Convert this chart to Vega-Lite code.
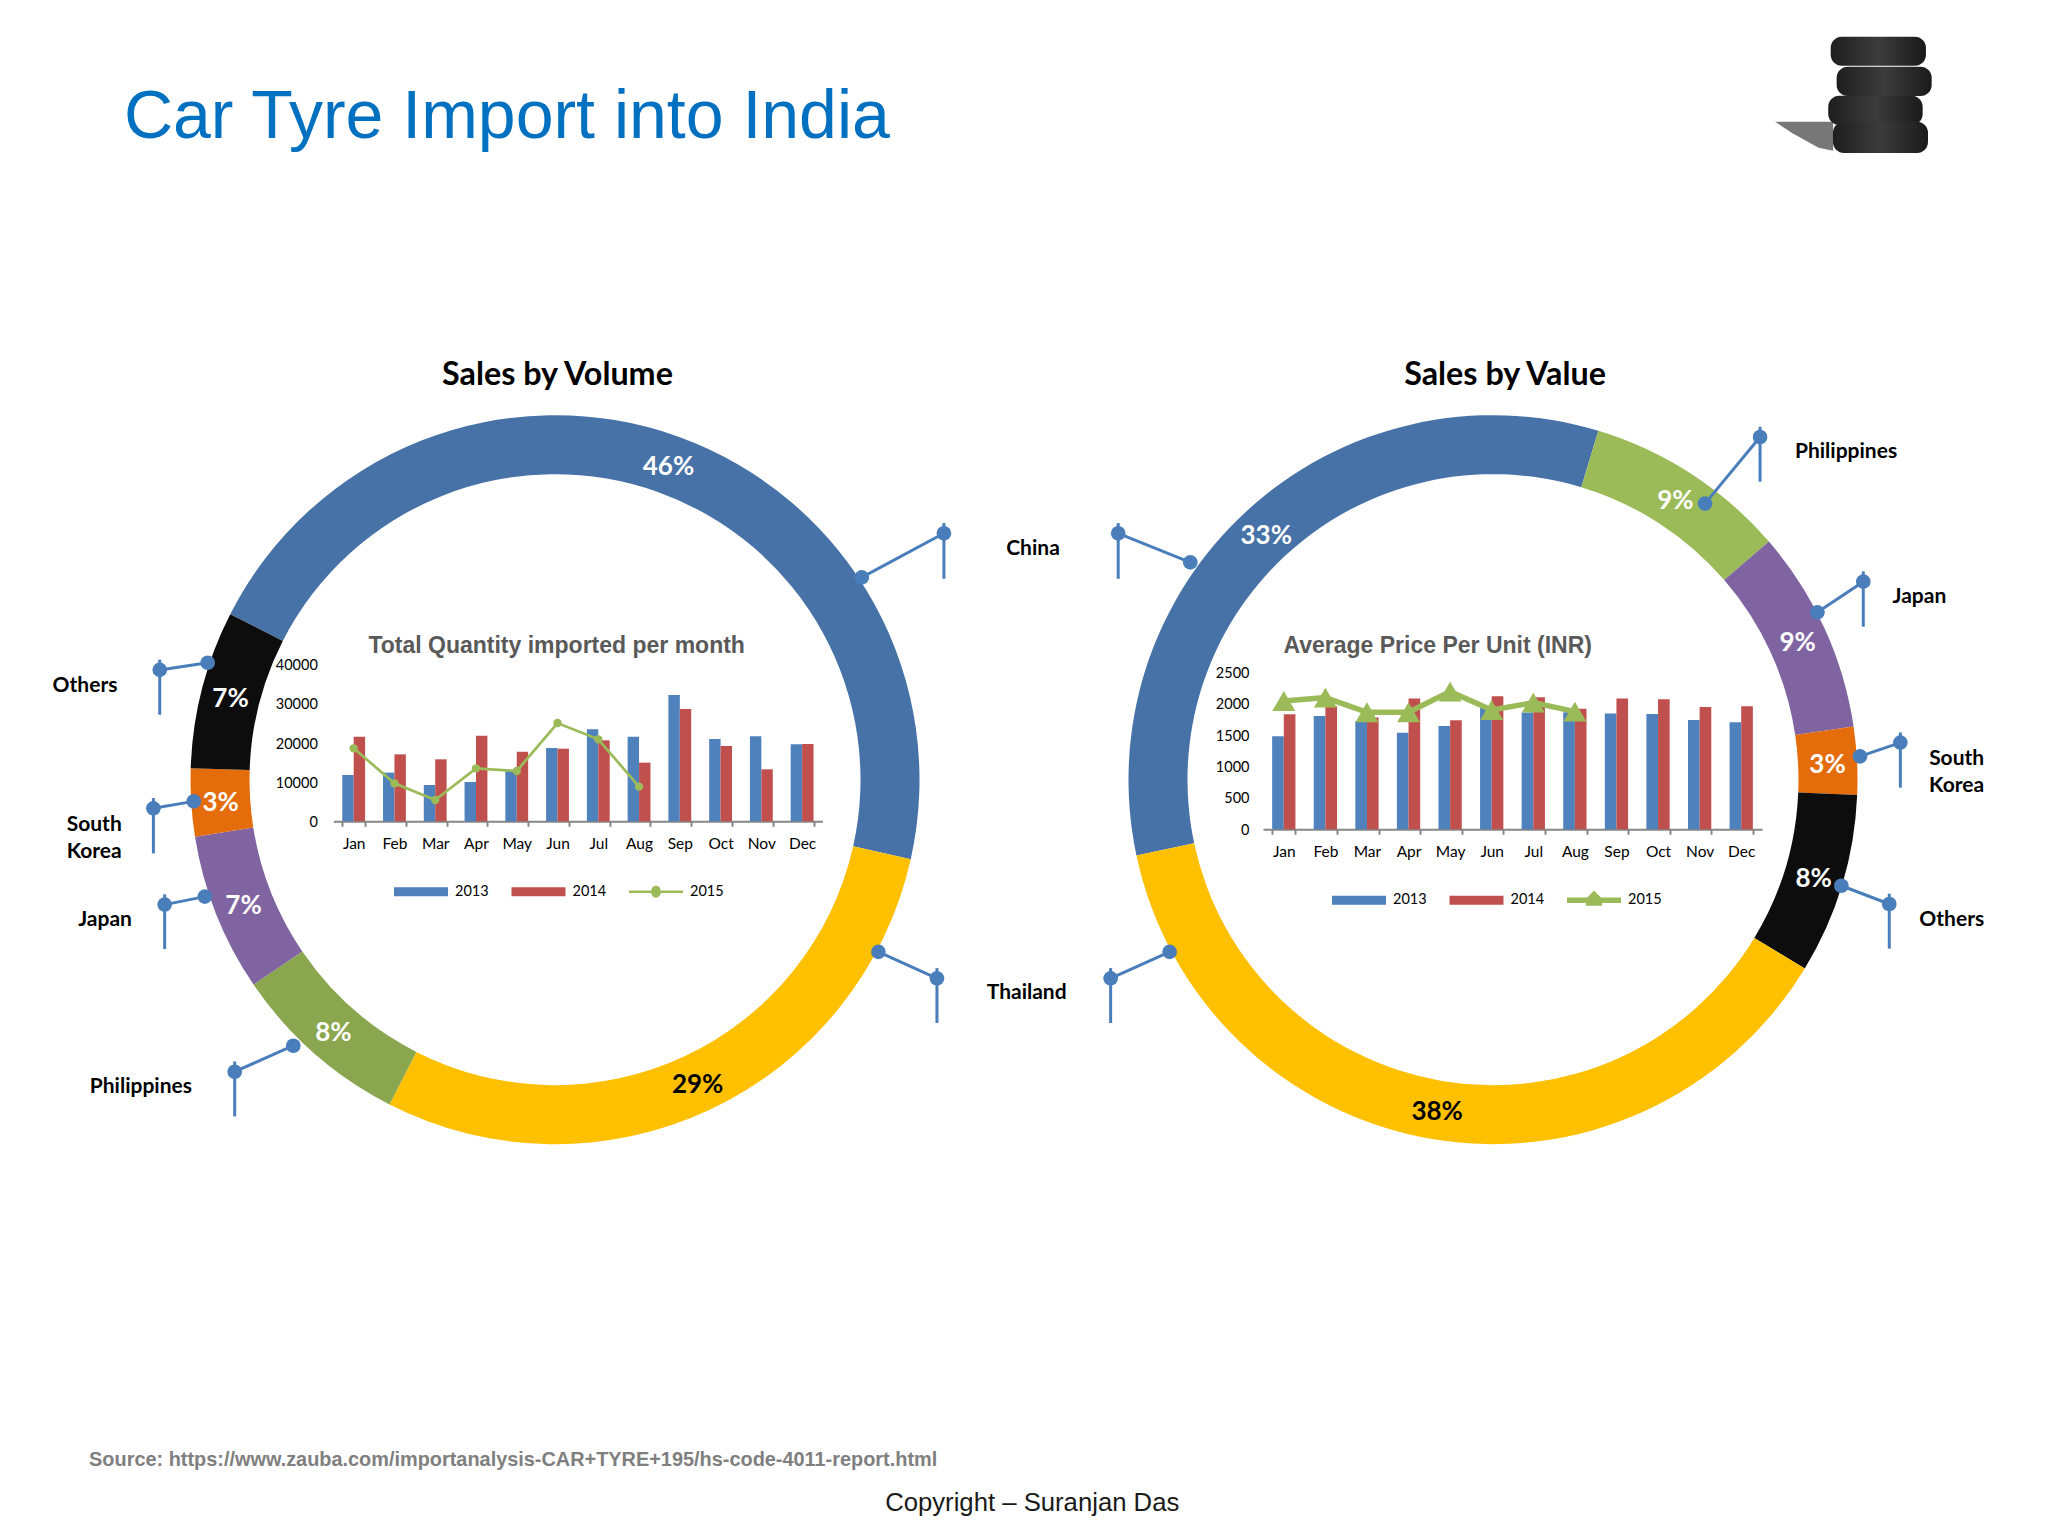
{
  "$schema": "https://vega.github.io/schema/vega-lite/v6.json",
  "autosize": {"type": "fit", "contains": "padding"},
  "width": 2048,
  "height": 1536,
  "padding": 0,
  "background": "#ffffff",
  "config": {
    "view": {"stroke": null},
    "axis": {"disable": true},
    "text": {"font": "Lato"},
    "rule": {"color": "#4A7EBB", "strokeWidth": 3},
    "point": {"color": "#4A7EBB", "filled": true, "opacity": 1, "size": 215}
  },
  "datasets": {
    "page": [{"note": "slide furniture"}],
    "volumeShare": [
      {"country": "China", "share": 0.46, "rank": 1},
      {"country": "Thailand", "share": 0.29, "rank": 2},
      {"country": "Philippines", "share": 0.08, "rank": 3},
      {"country": "Japan", "share": 0.07, "rank": 4},
      {"country": "South Korea", "share": 0.03, "rank": 5},
      {"country": "Others", "share": 0.07, "rank": 6}
    ],
    "valueShare": [
      {"country": "China", "share": 0.33, "rank": 1},
      {"country": "Philippines", "share": 0.09, "rank": 2},
      {"country": "Japan", "share": 0.09, "rank": 3},
      {"country": "South Korea", "share": 0.03, "rank": 4},
      {"country": "Others", "share": 0.08, "rank": 5},
      {"country": "Thailand", "share": 0.38, "rank": 6}
    ],
    "quantity": [
      {"month": "Jan", "year": "2013", "units": 11830},
      {"month": "Jan", "year": "2014", "units": 21620},
      {"month": "Jan", "year": "2015", "units": 18640},
      {"month": "Feb", "year": "2013", "units": 12430},
      {"month": "Feb", "year": "2014", "units": 17100},
      {"month": "Feb", "year": "2015", "units": 9700},
      {"month": "Mar", "year": "2013", "units": 9280},
      {"month": "Mar", "year": "2014", "units": 15830},
      {"month": "Mar", "year": "2015", "units": 5450},
      {"month": "Apr", "year": "2013", "units": 10040},
      {"month": "Apr", "year": "2014", "units": 21870},
      {"month": "Apr", "year": "2015", "units": 13530},
      {"month": "May", "year": "2013", "units": 12850},
      {"month": "May", "year": "2014", "units": 17790},
      {"month": "May", "year": "2015", "units": 12850},
      {"month": "Jun", "year": "2013", "units": 18720},
      {"month": "Jun", "year": "2014", "units": 18550},
      {"month": "Jun", "year": "2015", "units": 25100},
      {"month": "Jul", "year": "2013", "units": 23490},
      {"month": "Jul", "year": "2014", "units": 20680},
      {"month": "Jul", "year": "2015", "units": 20940},
      {"month": "Aug", "year": "2013", "units": 21620},
      {"month": "Aug", "year": "2014", "units": 14980},
      {"month": "Aug", "year": "2015", "units": 8850},
      {"month": "Sep", "year": "2013", "units": 32260},
      {"month": "Sep", "year": "2014", "units": 28680},
      {"month": "Oct", "year": "2013", "units": 21020},
      {"month": "Oct", "year": "2014", "units": 19230},
      {"month": "Nov", "year": "2013", "units": 21700},
      {"month": "Nov", "year": "2014", "units": 13280},
      {"month": "Dec", "year": "2013", "units": 19660},
      {"month": "Dec", "year": "2014", "units": 19740}
    ],
    "price": [
      {"month": "Jan", "year": "2013", "inr": 1481},
      {"month": "Jan", "year": "2014", "inr": 1831},
      {"month": "Jan", "year": "2015", "inr": 2043},
      {"month": "Feb", "year": "2013", "inr": 1805},
      {"month": "Feb", "year": "2014", "inr": 1964},
      {"month": "Feb", "year": "2015", "inr": 2097},
      {"month": "Mar", "year": "2013", "inr": 1725},
      {"month": "Mar", "year": "2014", "inr": 1780},
      {"month": "Mar", "year": "2015", "inr": 1863},
      {"month": "Apr", "year": "2013", "inr": 1539},
      {"month": "Apr", "year": "2014", "inr": 2081},
      {"month": "Apr", "year": "2015", "inr": 1863},
      {"month": "May", "year": "2013", "inr": 1645},
      {"month": "May", "year": "2014", "inr": 1736},
      {"month": "May", "year": "2015", "inr": 2192},
      {"month": "Jun", "year": "2013", "inr": 1943},
      {"month": "Jun", "year": "2014", "inr": 2118},
      {"month": "Jun", "year": "2015", "inr": 1900},
      {"month": "Jul", "year": "2013", "inr": 1858},
      {"month": "Jul", "year": "2014", "inr": 2102},
      {"month": "Jul", "year": "2015", "inr": 2017},
      {"month": "Aug", "year": "2013", "inr": 1863},
      {"month": "Aug", "year": "2014", "inr": 1921},
      {"month": "Aug", "year": "2015", "inr": 1874},
      {"month": "Sep", "year": "2013", "inr": 1842},
      {"month": "Sep", "year": "2014", "inr": 2081},
      {"month": "Oct", "year": "2013", "inr": 1837},
      {"month": "Oct", "year": "2014", "inr": 2070},
      {"month": "Nov", "year": "2013", "inr": 1741},
      {"month": "Nov", "year": "2014", "inr": 1948},
      {"month": "Dec", "year": "2013", "inr": 1704},
      {"month": "Dec", "year": "2014", "inr": 1958}
    ]
  },
  "resolve": {
    "scale": {"x": "independent", "y": "independent", "xOffset": "independent", "theta": "independent", "color": "independent"},
    "axis": {"x": "independent", "y": "independent"},
    "legend": {"color": "independent"}
  },
  "layer": [
    {
      "data": {"name": "volumeShare"},
      "encoding": {
        "theta": {"field": "share", "type": "quantitative", "stack": true, "scale": {"domain": [0, 1], "range": [5.1836, 11.4668]}},
        "order": {"field": "rank", "type": "quantitative"},
        "detail": {"field": "country"}
      },
      "layer": [
        {
          "mark": {"type": "arc", "x": {"expr": "width*0.2710"}, "y": {"expr": "height*0.5076"}, "radius": 364.5, "radius2": 305.5},
          "encoding": {
            "color": {"field": "country", "type": "nominal", "legend": null, "scale": {"domain": ["China", "Thailand", "Philippines", "Japan", "South Korea", "Others"], "range": ["#4672A8", "#FFC000", "#8AA64F", "#8064A2", "#E46C0A", "#0D0D0D"]}}
          }
        },
        {
          "mark": {"type": "text", "x": {"expr": "width*0.2710"}, "y": {"expr": "height*0.5076"}, "radius": 335, "dy": 2.5, "fontSize": 26, "fontWeight": "bold", "align": "center", "baseline": "middle"},
          "encoding": {
            "text": {"field": "share", "type": "quantitative", "format": ".0%"},
            "color": {"condition": {"test": "datum.country === 'Thailand'", "value": "#000000"}, "value": "#ffffff"}
          }
        }
      ]
    },
    {
      "data": {"name": "valueShare"},
      "encoding": {
        "theta": {"field": "share", "type": "quantitative", "stack": true, "scale": {"domain": [0, 1], "range": [4.5029, 10.7861]}},
        "order": {"field": "rank", "type": "quantitative"},
        "detail": {"field": "country"}
      },
      "layer": [
        {
          "mark": {"type": "arc", "x": {"expr": "width*0.7290"}, "y": {"expr": "height*0.5076"}, "radius": 364.5, "radius2": 305.5},
          "encoding": {
            "color": {"field": "country", "type": "nominal", "legend": null, "scale": {"domain": ["China", "Thailand", "Philippines", "Japan", "South Korea", "Others"], "range": ["#4672A8", "#FFC000", "#9BBB59", "#8064A2", "#E46C0A", "#0D0D0D"]}}
          }
        },
        {
          "mark": {"type": "text", "x": {"expr": "width*0.7290"}, "y": {"expr": "height*0.5076"}, "radius": 335, "dy": 2.5, "fontSize": 26, "fontWeight": "bold", "align": "center", "baseline": "middle"},
          "encoding": {
            "text": {"field": "share", "type": "quantitative", "format": ".0%"},
            "color": {"condition": {"test": "datum.country === 'Thailand'", "value": "#000000"}, "value": "#ffffff"}
          }
        }
      ]
    },
    {
      "data": {"name": "quantity"},
      "encoding": {
        "x": {
          "field": "month", "type": "nominal", "sort": null,
          "scale": {"type": "band", "domain": ["Jan", "Feb", "Mar", "Apr", "May", "Jun", "Jul", "Aug", "Sep", "Oct", "Nov", "Dec"], "range": [333.3, 822.5], "paddingInner": 0.44, "paddingOuter": 0.22},
          "axis": {"disable": false, "orient": "bottom", "offset": -714.7, "title": null, "labelAngle": 0, "labelFont": "Lato", "labelFontSize": 15.5, "labelColor": "#000000", "labelPadding": 10, "domainColor": "#868686", "domainWidth": 2, "tickColor": "#868686", "tickWidth": 2, "tickSize": 5, "tickBand": "extent"}
        },
        "y": {
          "field": "units", "type": "quantitative", "stack": null,
          "scale": {"domain": [0, 40000], "range": [821.3, 664.7], "nice": false},
          "axis": {"disable": false, "orient": "left", "offset": -333.3, "title": null, "values": [0, 10000, 20000, 30000, 40000], "format": "d", "grid": false, "domain": false, "ticks": false, "labelFont": "Lato", "labelFontSize": 14.5, "labelColor": "#000000", "labelPadding": 16, "labelOffset": 1}
        },
        "color": {
          "field": "year", "type": "nominal",
          "scale": {"domain": ["2013", "2014", "2015"], "range": ["#4F81BD", "#C0504D", "#9BBB59"]},
          "legend": {
            "orient": "none", "legendX": 394, "legendY": 864.5, "direction": "horizontal", "title": null, "columns": 3,
            "labelFont": "Lato", "labelFontSize": 14.5, "labelColor": "#000000", "labelOffset": 7, "columnPadding": 22.5,
            "symbolSize": 2916, "symbolStrokeWidth": 0,
            "encode": {"symbols": {"update": {"shape": {"signal": "datum.value === '2015' ? 'M-1,-.05H-.17A.17,.17 0 0 1 .17,-.05H1V.05H.17A.17,.17 0 0 1 -.17,.05H-1Z' : 'M-1,-.167H1V.167H-1Z'"}}}}
          }
        }
      },
      "layer": [
        {
          "transform": [{"filter": "datum.year !== '2015'"}],
          "mark": {"type": "bar"},
          "encoding": {"xOffset": {"field": "year", "type": "nominal", "scale": {"domain": ["2013", "2014"]}}}
        },
        {
          "transform": [{"filter": "datum.year === '2015'"}],
          "mark": {"type": "line", "strokeWidth": 2.7, "point": {"filled": true, "size": 70, "opacity": 1}}
        }
      ]
    },
    {
      "data": {"name": "price"},
      "encoding": {
        "x": {
          "field": "month", "type": "nominal", "sort": null,
          "scale": {"type": "band", "domain": ["Jan", "Feb", "Mar", "Apr", "May", "Jun", "Jul", "Aug", "Sep", "Oct", "Nov", "Dec"], "range": [1263, 1762], "paddingInner": 0.44, "paddingOuter": 0.22},
          "axis": {"disable": false, "orient": "bottom", "offset": -706.7, "title": null, "labelAngle": 0, "labelFont": "Lato", "labelFontSize": 15.5, "labelColor": "#000000", "labelPadding": 10, "domainColor": "#868686", "domainWidth": 2, "tickColor": "#868686", "tickWidth": 2, "tickSize": 5, "tickBand": "extent"}
        },
        "y": {
          "field": "inr", "type": "quantitative", "stack": null,
          "scale": {"domain": [0, 2500], "range": [829.3, 672.3], "nice": false},
          "axis": {"disable": false, "orient": "left", "offset": -1263, "title": null, "values": [0, 500, 1000, 1500, 2000, 2500], "format": "d", "grid": false, "domain": false, "ticks": false, "labelFont": "Lato", "labelFontSize": 14.5, "labelColor": "#000000", "labelPadding": 14, "labelOffset": 1}
        },
        "color": {
          "field": "year", "type": "nominal",
          "scale": {"domain": ["2013", "2014", "2015"], "range": ["#4F81BD", "#C0504D", "#9BBB59"]},
          "legend": {
            "orient": "none", "legendX": 1332, "legendY": 873, "direction": "horizontal", "title": null, "columns": 3,
            "labelFont": "Lato", "labelFontSize": 14.5, "labelColor": "#000000", "labelOffset": 7, "columnPadding": 22.5,
            "symbolSize": 2916, "symbolStrokeWidth": 0,
            "encode": {"symbols": {"update": {"shape": {"signal": "datum.value === '2015' ? 'M-1,-.1H-.25L0,-.36L.25,-.1H1V.1H.3V.2H-.3V.1H-1Z' : 'M-1,-.167H1V.167H-1Z'"}}}}
          }
        }
      },
      "layer": [
        {
          "transform": [{"filter": "datum.year !== '2015'"}],
          "mark": {"type": "bar"},
          "encoding": {"xOffset": {"field": "year", "type": "nominal", "scale": {"domain": ["2013", "2014"]}}}
        },
        {
          "transform": [{"filter": "datum.year === '2015'"}],
          "mark": {"type": "line", "strokeWidth": 5.5, "point": {"filled": true, "size": 530, "shape": "triangle-up", "opacity": 1}}
        }
      ]
    },
    {
      "data": {"name": "page"},
      "layer": [
        {"mark": {"type": "text", "font": "Liberation Sans", "fontSize": 68, "align": "left", "baseline": "middle", "color": "#0070C0"}, "encoding": {"x": {"datum": 60.5, "type": "quantitative", "scale": {"domain": [0, 1000], "range": [0, 2048], "nice": false}}, "y": {"datum": 57.5, "type": "quantitative", "scale": {"domain": [0, 750], "range": [0, 1536], "nice": false}}, "text": {"value": "Car Tyre Import into India"}}},
        {"mark": {"type": "text", "fontSize": 32.3, "fontWeight": "bold", "color": "#000000"}, "encoding": {"x": {"datum": 272.2}, "y": {"datum": 183.2}, "text": {"value": "Sales by Volume"}}},
        {"mark": {"type": "text", "fontSize": 32.3, "fontWeight": "bold", "color": "#000000"}, "encoding": {"x": {"datum": 734.9}, "y": {"datum": 183.2}, "text": {"value": "Sales by Value"}}},
        {"mark": {"type": "text", "font": "Liberation Sans", "fontSize": 23, "fontWeight": "bold", "color": "#595959"}, "encoding": {"x": {"datum": 271.8}, "y": {"datum": 315.5}, "text": {"value": "Total Quantity imported per month"}}},
        {"mark": {"type": "text", "font": "Liberation Sans", "fontSize": 23, "fontWeight": "bold", "color": "#595959"}, "encoding": {"x": {"datum": 702}, "y": {"datum": 315.5}, "text": {"value": "Average Price Per Unit (INR)"}}},
        {"mark": {"type": "text", "font": "Liberation Sans", "fontSize": 19.9, "fontWeight": "bold", "align": "left", "color": "#7F7F7F"}, "encoding": {"x": {"datum": 43.5}, "y": {"datum": 713}, "text": {"value": "Source: https://www.zauba.com/importanalysis-CAR+TYRE+195/hs-code-4011-report.html"}}},
        {"mark": {"type": "text", "font": "Liberation Sans", "fontSize": 25.7, "color": "#1a1a1a"}, "encoding": {"x": {"datum": 504}, "y": {"datum": 733.8}, "text": {"value": "Copyright – Suranjan Das"}}},

        {"mark": {"type": "point", "shape": "M-1,-.5H1V.5L.5,.4L-.4,-.1Z", "size": 3364, "color": "#777777"}, "encoding": {"x": {"datum": 880.9}, "y": {"datum": 66.5}}},
        {"mark": {"type": "rect", "cornerRadius": 11, "color": {"gradient": "linear", "x1": 0, "x2": 1, "y1": 0, "y2": 0, "stops": [{"offset": 0, "color": "#1e1e1e"}, {"offset": 0.5, "color": "#3c3c3c"}, {"offset": 1, "color": "#1a1a1a"}]}}, "encoding": {"x": {"datum": 893.9}, "x2": {"datum": 940.4}, "y": {"datum": 17.9}, "y2": {"datum": 32.1}}},
        {"mark": {"type": "rect", "cornerRadius": 11, "color": {"gradient": "linear", "x1": 0, "x2": 1, "y1": 0, "y2": 0, "stops": [{"offset": 0, "color": "#1e1e1e"}, {"offset": 0.5, "color": "#3c3c3c"}, {"offset": 1, "color": "#1a1a1a"}]}}, "encoding": {"x": {"datum": 896.8}, "x2": {"datum": 943.2}, "y": {"datum": 32.6}, "y2": {"datum": 46.9}}},
        {"mark": {"type": "rect", "cornerRadius": 11, "color": {"gradient": "linear", "x1": 0, "x2": 1, "y1": 0, "y2": 0, "stops": [{"offset": 0, "color": "#1e1e1e"}, {"offset": 0.5, "color": "#3c3c3c"}, {"offset": 1, "color": "#1a1a1a"}]}}, "encoding": {"x": {"datum": 892.7}, "x2": {"datum": 938.8}, "y": {"datum": 46.7}, "y2": {"datum": 61.0}}},
        {"mark": {"type": "rect", "cornerRadius": 11, "color": {"gradient": "linear", "x1": 0, "x2": 1, "y1": 0, "y2": 0, "stops": [{"offset": 0, "color": "#1e1e1e"}, {"offset": 0.5, "color": "#3c3c3c"}, {"offset": 1, "color": "#1a1a1a"}]}}, "encoding": {"x": {"datum": 895.0}, "x2": {"datum": 941.4}, "y": {"datum": 59.4}, "y2": {"datum": 74.7}}},

        {"mark": "rule", "encoding": {"x": {"datum": 420.8}, "x2": {"datum": 460.9}, "y": {"datum": 281.9}, "y2": {"datum": 260.4}}},
        {"mark": "rule", "encoding": {"x": {"datum": 460.9}, "y": {"datum": 255.4}, "y2": {"datum": 282.6}}},
        {"mark": "point", "encoding": {"x": {"datum": 420.8}, "y": {"datum": 281.9}}},
        {"mark": "point", "encoding": {"x": {"datum": 460.9}, "y": {"datum": 260.4}}},
        {"mark": {"type": "text", "fontSize": 21, "fontWeight": "bold", "color": "#000000"}, "encoding": {"x": {"datum": 504.4}, "y": {"datum": 268.3}, "text": {"value": "China"}}},

        {"mark": "rule", "encoding": {"x": {"datum": 428.9}, "x2": {"datum": 457.5}, "y": {"datum": 464.8}, "y2": {"datum": 477.7}}},
        {"mark": "rule", "encoding": {"x": {"datum": 457.5}, "y": {"datum": 472.7}, "y2": {"datum": 499.5}}},
        {"mark": "point", "encoding": {"x": {"datum": 428.9}, "y": {"datum": 464.8}}},
        {"mark": "point", "encoding": {"x": {"datum": 457.5}, "y": {"datum": 477.7}}},
        {"mark": {"type": "text", "fontSize": 21, "fontWeight": "bold", "color": "#000000"}, "encoding": {"x": {"datum": 501.3}, "y": {"datum": 485.1}, "text": {"value": "Thailand"}}},

        {"mark": "rule", "encoding": {"x": {"datum": 101.4}, "x2": {"datum": 78.0}, "y": {"datum": 323.6}, "y2": {"datum": 327.1}}},
        {"mark": "rule", "encoding": {"x": {"datum": 78.0}, "y": {"datum": 322.1}, "y2": {"datum": 349.0}}},
        {"mark": "point", "encoding": {"x": {"datum": 101.4}, "y": {"datum": 323.6}}},
        {"mark": "point", "encoding": {"x": {"datum": 78.0}, "y": {"datum": 327.1}}},
        {"mark": {"type": "text", "fontSize": 21, "fontWeight": "bold", "color": "#000000"}, "encoding": {"x": {"datum": 41.5}, "y": {"datum": 335}, "text": {"value": "Others"}}},

        {"mark": "rule", "encoding": {"x": {"datum": 94.6}, "x2": {"datum": 74.9}, "y": {"datum": 391.3}, "y2": {"datum": 394.7}}},
        {"mark": "rule", "encoding": {"x": {"datum": 74.9}, "y": {"datum": 389.7}, "y2": {"datum": 416.7}}},
        {"mark": "point", "encoding": {"x": {"datum": 94.6}, "y": {"datum": 391.3}}},
        {"mark": "point", "encoding": {"x": {"datum": 74.9}, "y": {"datum": 394.7}}},
        {"mark": {"type": "text", "fontSize": 21, "fontWeight": "bold", "color": "#000000", "lineHeight": 27}, "encoding": {"x": {"datum": 46.0}, "y": {"datum": 402.6}, "text": {"value": ["South", "Korea"]}}},

        {"mark": "rule", "encoding": {"x": {"datum": 100.0}, "x2": {"datum": 80.4}, "y": {"datum": 437.8}, "y2": {"datum": 441.7}}},
        {"mark": "rule", "encoding": {"x": {"datum": 80.4}, "y": {"datum": 436.7}, "y2": {"datum": 463.4}}},
        {"mark": "point", "encoding": {"x": {"datum": 100.0}, "y": {"datum": 437.8}}},
        {"mark": "point", "encoding": {"x": {"datum": 80.4}, "y": {"datum": 441.7}}},
        {"mark": {"type": "text", "fontSize": 21, "fontWeight": "bold", "color": "#000000"}, "encoding": {"x": {"datum": 51.3}, "y": {"datum": 449.3}, "text": {"value": "Japan"}}},

        {"mark": "rule", "encoding": {"x": {"datum": 143.2}, "x2": {"datum": 114.6}, "y": {"datum": 510.6}, "y2": {"datum": 523.3}}},
        {"mark": "rule", "encoding": {"x": {"datum": 114.6}, "y": {"datum": 518.3}, "y2": {"datum": 545.1}}},
        {"mark": "point", "encoding": {"x": {"datum": 143.2}, "y": {"datum": 510.6}}},
        {"mark": "point", "encoding": {"x": {"datum": 114.6}, "y": {"datum": 523.3}}},
        {"mark": {"type": "text", "fontSize": 21, "fontWeight": "bold", "color": "#000000"}, "encoding": {"x": {"datum": 68.8}, "y": {"datum": 531}, "text": {"value": "Philippines"}}},

        {"mark": "rule", "encoding": {"x": {"datum": 581.2}, "x2": {"datum": 546.0}, "y": {"datum": 274.6}, "y2": {"datum": 260.4}}},
        {"mark": "rule", "encoding": {"x": {"datum": 546.0}, "y": {"datum": 255.4}, "y2": {"datum": 282.6}}},
        {"mark": "point", "encoding": {"x": {"datum": 581.2}, "y": {"datum": 274.6}}},
        {"mark": "point", "encoding": {"x": {"datum": 546.0}, "y": {"datum": 260.4}}},

        {"mark": "rule", "encoding": {"x": {"datum": 571.1}, "x2": {"datum": 542.3}, "y": {"datum": 464.8}, "y2": {"datum": 477.7}}},
        {"mark": "rule", "encoding": {"x": {"datum": 542.3}, "y": {"datum": 472.7}, "y2": {"datum": 499.5}}},
        {"mark": "point", "encoding": {"x": {"datum": 571.1}, "y": {"datum": 464.8}}},
        {"mark": "point", "encoding": {"x": {"datum": 542.3}, "y": {"datum": 477.7}}},

        {"mark": "rule", "encoding": {"x": {"datum": 832.5}, "x2": {"datum": 859.4}, "y": {"datum": 245.9}, "y2": {"datum": 213.4}}},
        {"mark": "rule", "encoding": {"x": {"datum": 859.4}, "y": {"datum": 208.4}, "y2": {"datum": 235.2}}},
        {"mark": "point", "encoding": {"x": {"datum": 832.5}, "y": {"datum": 245.9}}},
        {"mark": "point", "encoding": {"x": {"datum": 859.4}, "y": {"datum": 213.4}}},
        {"mark": {"type": "text", "fontSize": 21, "fontWeight": "bold", "color": "#000000"}, "encoding": {"x": {"datum": 901.4}, "y": {"datum": 220.9}, "text": {"value": "Philippines"}}},

        {"mark": "rule", "encoding": {"x": {"datum": 887.4}, "x2": {"datum": 909.8}, "y": {"datum": 299.0}, "y2": {"datum": 284.0}}},
        {"mark": "rule", "encoding": {"x": {"datum": 909.8}, "y": {"datum": 279.0}, "y2": {"datum": 306.0}}},
        {"mark": "point", "encoding": {"x": {"datum": 887.4}, "y": {"datum": 299.0}}},
        {"mark": "point", "encoding": {"x": {"datum": 909.8}, "y": {"datum": 284.0}}},
        {"mark": {"type": "text", "fontSize": 21, "fontWeight": "bold", "color": "#000000"}, "encoding": {"x": {"datum": 937.2}, "y": {"datum": 291.7}, "text": {"value": "Japan"}}},

        {"mark": "rule", "encoding": {"x": {"datum": 908.2}, "x2": {"datum": 927.9}, "y": {"datum": 369.3}, "y2": {"datum": 362.6}}},
        {"mark": "rule", "encoding": {"x": {"datum": 927.9}, "y": {"datum": 357.6}, "y2": {"datum": 384.6}}},
        {"mark": "point", "encoding": {"x": {"datum": 908.2}, "y": {"datum": 369.3}}},
        {"mark": "point", "encoding": {"x": {"datum": 927.9}, "y": {"datum": 362.6}}},
        {"mark": {"type": "text", "fontSize": 21, "fontWeight": "bold", "color": "#000000", "lineHeight": 27}, "encoding": {"x": {"datum": 955.4}, "y": {"datum": 370.7}, "text": {"value": ["South", "Korea"]}}},

        {"mark": "rule", "encoding": {"x": {"datum": 899.1}, "x2": {"datum": 922.5}, "y": {"datum": 432.5}, "y2": {"datum": 441.4}}},
        {"mark": "rule", "encoding": {"x": {"datum": 922.5}, "y": {"datum": 436.4}, "y2": {"datum": 463.2}}},
        {"mark": "point", "encoding": {"x": {"datum": 899.1}, "y": {"datum": 432.5}}},
        {"mark": "point", "encoding": {"x": {"datum": 922.5}, "y": {"datum": 441.4}}},
        {"mark": {"type": "text", "fontSize": 21, "fontWeight": "bold", "color": "#000000"}, "encoding": {"x": {"datum": 953.0}, "y": {"datum": 449.4}, "text": {"value": "Others"}}}
      ]
    }
  ]
}
